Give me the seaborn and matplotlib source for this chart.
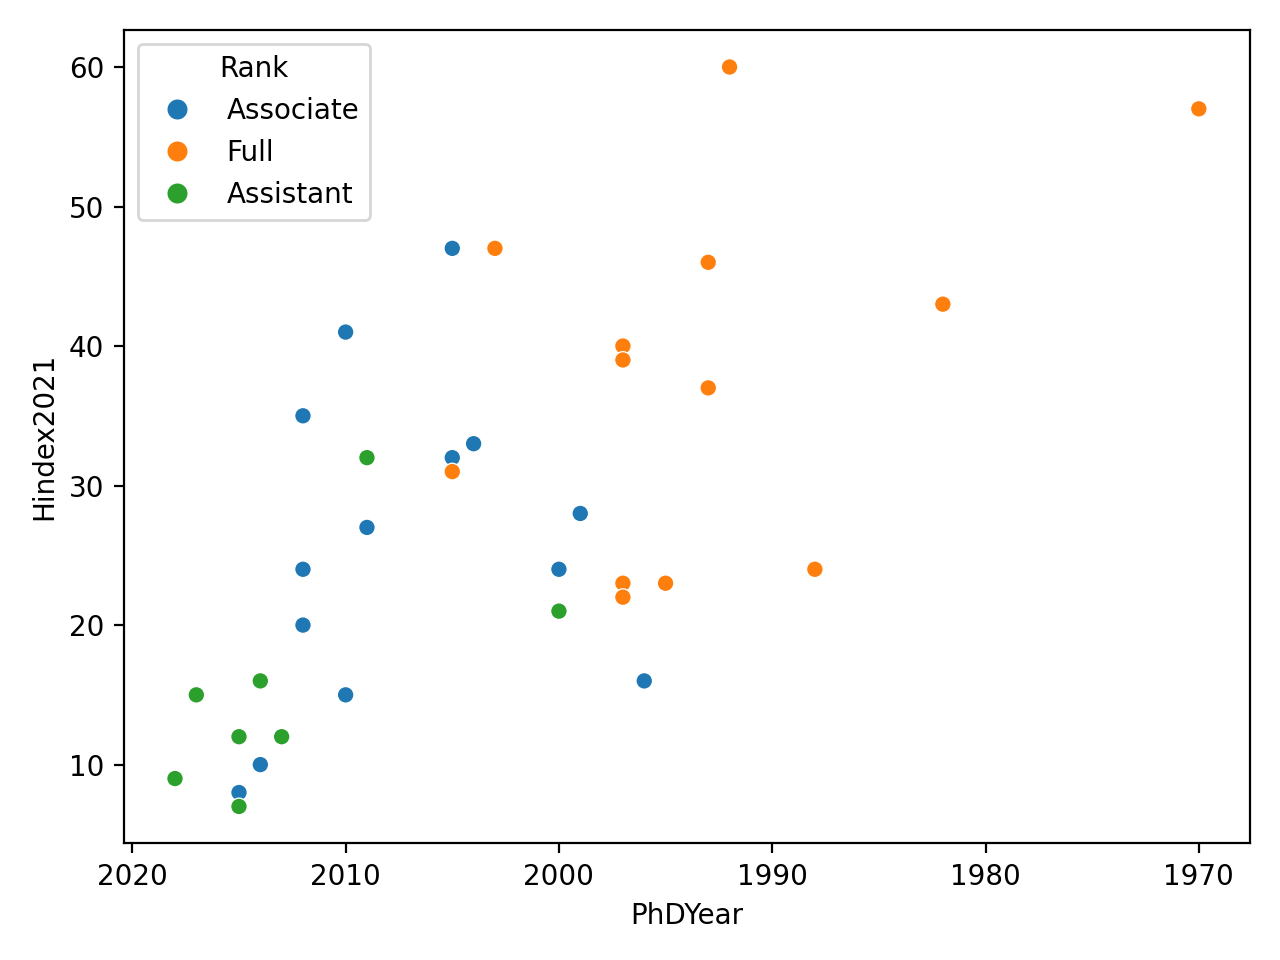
import pandas as pd
import matplotlib
matplotlib.use("Agg")
import matplotlib.pyplot as plt
import seaborn as sns

# values
assoc_year = [2005, 2010, 2012, 2005, 2004, 2009, 1999, 2012, 2000, 2012, 2010, 1996, 2014, 2015]
assoc_h = [47, 41, 35, 32, 33, 27, 28, 24, 24, 20, 15, 16, 10, 8]

full_year = [1992, 1970, 2003, 1993, 1982, 1997, 1997, 1993, 2005, 1997, 1995, 1997, 1988]
full_h = [60, 57, 47, 46, 43, 40, 39, 37, 31, 23, 23, 22, 24]

asst_year = [2009, 2000, 2017, 2014, 2015, 2013, 2018, 2015]
asst_h = [32, 21, 15, 16, 12, 12, 9, 7]

rank_order = ["Associate", "Full", "Assistant"]

df = pd.concat([
    pd.DataFrame({"PhDYear": assoc_year, "Hindex2021": assoc_h, "Rank": "Associate"}),
    pd.DataFrame({"PhDYear": full_year, "Hindex2021": full_h, "Rank": "Full"}),
    pd.DataFrame({"PhDYear": asst_year, "Hindex2021": asst_h, "Rank": "Assistant"}),
], ignore_index=True)

fig, ax = plt.subplots(figsize=(6.4, 4.8))
sns.scatterplot(data=df, x="PhDYear", y="Hindex2021", hue="Rank",
                hue_order=rank_order, ax=ax)
ax.invert_xaxis()

# bigger dots in the legend, like the reference
for h in ax.get_legend().legend_handles:
    h.set_markersize(7.2)
    h.set_markeredgewidth(0)

plt.tight_layout()
plt.savefig("out.png", dpi=200)
